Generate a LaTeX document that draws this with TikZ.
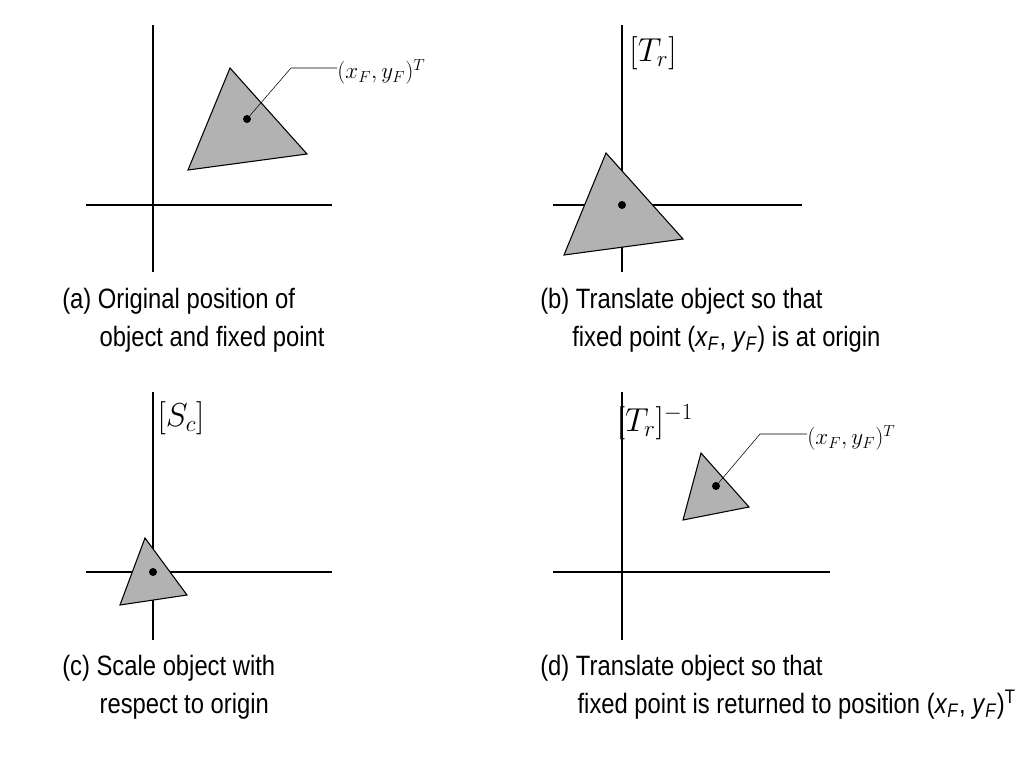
\documentclass[tikz,border=0pt]{standalone}
\usepackage{fontspec}
\setsansfont{Liberation Sans}[FakeStretch=0.85]
\newcommand{\xF}{\textit{x}\textsubscript{\textit{F}}}
\newcommand{\yF}{\textit{y}\textsubscript{\textit{F}}}
\begin{document}
\begin{tikzpicture}[x=0.75pt,y=-0.75pt,
  axis/.style={line width=0.8pt},
  tri/.style={draw,fill=gray!60,line width=0.8pt},
  dot/.style={circle,fill=black,inner sep=0pt,minimum size=6pt},
  captext/.style={font=\sffamily\fontsize{21}{28.5}\selectfont,anchor=north west,align=left,inner sep=0pt},
  mlab/.style={font=\fontsize{17}{18}\selectfont,inner sep=0pt},
  blab/.style={font=\fontsize{25}{26}\selectfont,inner sep=0pt}]
\useasboundingbox (0,0) rectangle (1024,768);
% (a)
\draw[axis] (153,25) -- (153,272); \draw[axis] (86,205) -- (332,205);
\draw[tri] (230,68) -- (307,154) -- (188,170) -- cycle;
\node[dot] (pa) at (247,119) {};
\node[mlab,anchor=west] (la) at (337,72) {$(x_F,y_F)^T$};
\coordinate (ka) at (291,68);
\draw (pa) -- (ka) -- (la.west |- ka);
\node[captext] (ca) at (62,288) {(a) Original position of\\\hspace*{28pt}object and fixed point};
% (b)
\draw[axis] (622,25) -- (622,272); \draw[axis] (553,205) -- (802,205);
\draw[tri] (606,153) -- (683,239) -- (564,255) -- cycle;
\node[dot] (pb) at (622,205) {};
\node[blab] (lb) at (653,53) {$[T_r]$};
\node[captext] (cb) at (540,288) {(b) Translate object so that\\\hspace*{24pt}fixed point (\xF, \yF) is at origin};
% (c)
\draw[axis] (153,392) -- (153,640); \draw[axis] (86,572) -- (332,572);
\draw[tri] (145,538) -- (187,595) -- (120,605) -- cycle;
\node[dot] (pc) at (153,572) {};
\node[blab] (lc) at (181,418) {$[S_c]$};
\node[captext] (cc) at (62,655) {(c) Scale object with\\\hspace*{28pt}respect to origin};
% (d)
\draw[axis] (622,392) -- (622,640); \draw[axis] (553,572) -- (830,572);
\draw[tri] (701,453) -- (749,507) -- (683,520) -- cycle;
\node[dot] (pd) at (716,486) {};
\node[blab] (ld) at (655,422) {$[T_r]^{-1}$};
\node[mlab,anchor=west] (le) at (807,438) {$(x_F,y_F)^T$};
\coordinate (kd) at (760,434);
\draw (pd) -- (kd) -- (le.west |- kd);
\node[captext] (cd) at (540,655) {(d) Translate object so that\\\hspace*{28pt}fixed point is returned to position (\xF, \yF)\textsuperscript{T}};
\end{tikzpicture}
\end{document}
